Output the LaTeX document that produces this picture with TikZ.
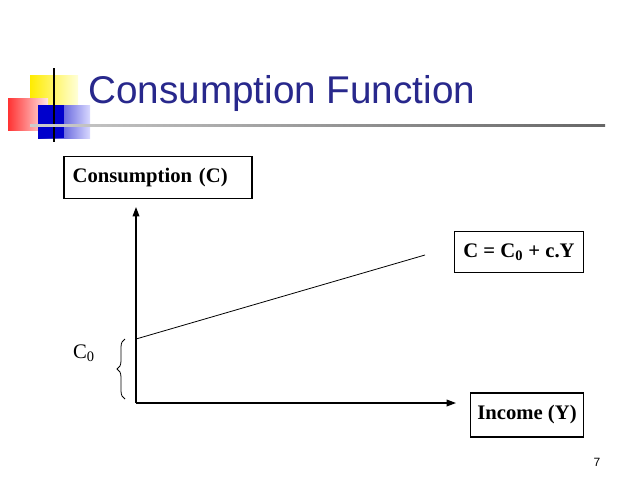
\documentclass[tikz,border=0pt]{standalone}
\usepackage{fontspec}
\setmainfont{Liberation Serif}
\newfontfamily\titlefont{Liberation Sans}
\usetikzlibrary{decorations.pathreplacing,arrows.meta}
\definecolor{titleblue}{RGB}{40,40,140}
\begin{document}
\begin{tikzpicture}[x=0.75pt,y=-0.75pt,
  lbl/.style={draw,line width=0.9pt,font=\bfseries\fontsize{15.5}{18}\selectfont,inner sep=0pt},
  ax/.style={line width=1pt,-{Triangle[length=7pt,width=5pt]}}]
\useasboundingbox (0,0) rectangle (638,479);
\fill[white] (0,0) rectangle (638,479);
% logo
\shade[left color=yellow!85!orange,right color=yellow!15] (30,75) rectangle (78,110);
\shade[left color=red!80,right color=red!10] (8,98) rectangle (48,130);
\shade[left color=blue!75!black,right color=blue!15] (38,105) rectangle (90,138);
\fill[blue!80!black] (38,105) rectangle (64,138);
\draw[line width=1.2pt] (54,68) -- (54,142);
\shade[left color=gray!40,right color=gray!80!black] (30,124) rectangle (605,126);
\node[anchor=base west,font=\titlefont\fontsize{29}{32}\selectfont,text=titleblue,inner sep=0pt] (title) at (88,103) {Consumption Function};
% boxes
\node[lbl,minimum width=141pt,minimum height=31pt,align=left,text width=128pt] (cons) at (158,177.5) {Consumption (C)};
\node[lbl,minimum width=97pt,minimum height=31pt] (eq) at (519,252) {C = C\textsubscript{0} + c.Y};
\node[lbl,minimum width=85pt,minimum height=33pt] (inc) at (527,415) {Income (Y)};
% axes
\coordinate (o) at (136,403);
\coordinate (yt) at (136,207);
\coordinate (xt) at (456,403);
\draw[ax] (o) -- (yt);
\draw[ax] (o) -- (xt);
\coordinate (a) at (136,339);
\coordinate (b) at (425,255);
\draw[line width=0.6pt] (a) -- (b);
\coordinate (b1) at (125,399);
\coordinate (b2) at (125,339);
\draw[decorate,decoration={brace,amplitude=6pt},line width=0.6pt] (b1) -- (b2);
\node[font=\fontsize{15.5}{18}\selectfont] (c0) at (84,353) {C\textsubscript{0}};
\node[font=\titlefont\fontsize{9}{11}\selectfont] (pg) at (597,462) {7};
\end{tikzpicture}
\end{document}
